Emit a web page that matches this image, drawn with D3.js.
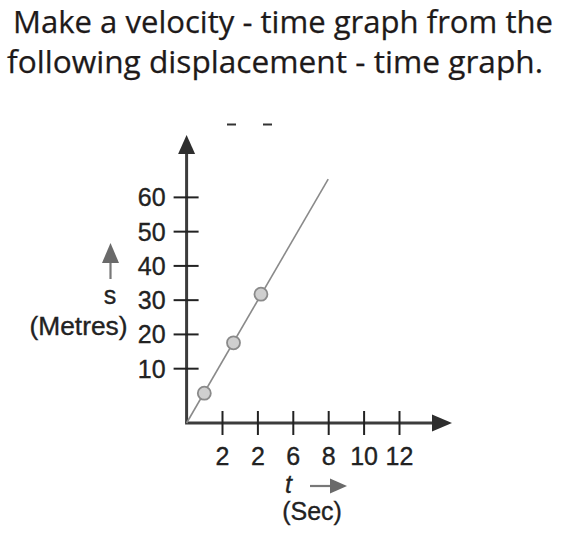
<!DOCTYPE html>
<html>
<head>
<meta charset="utf-8">
<script src="https://cdn.jsdelivr.net/npm/d3@7"></script>
<style>
  html, body { margin: 0; padding: 0; background: #fff; }
  svg { display: block; }
</style>
</head>
<body>
<svg id="chart" width="564" height="535"></svg>
<script>
// ---- data ----
const titleLines = ["Make a velocity - time graph from the", "following displacement - time graph."];
const xTickValues = [2, 4, 6, 8, 10, 12];
const xTickLabels = ["2", "2", "6", "8", "10", "12"];
const yTickValues = [10, 20, 30, 40, 50, 60];
const yTickLabels = ["10", "20", "30", "40", "50", "60"];
const lineT = [0, 8.0];
const lineS = [-6, 65.2];
const pointT = [1.0, 2.65, 4.2];
const pointS = [2.7, 17.4, 31.6];
const yLabel = ["s", "(Metres)"];
const xLabel = ["t", "(Sec)"];

// ---- layout ----
const svg = d3.select("#chart");
const ox = 186.6, oy = 423;
const x = d3.scaleLinear().domain([0, 12]).range([ox, ox + 12 * 17.7]);
const y = d3.scaleLinear().domain([-6, 60]).range([oy, oy - 66 * 3.426]);
const xEnd = 452, yEnd = 135;

// title
const titleTargets = [{x: 13, y: 33, w: 540}, {x: 7, y: 73, w: 536}];
titleLines.forEach((t, i) => {
  const tt = titleTargets[i];
  const el = svg.append("text")
    .attr("x", tt.x).attr("y", tt.y)
    .attr("font-family", "'Open Sans', 'Noto Sans', sans-serif")
    .attr("font-size", 29)
    .attr("fill", "#1e1a1a")
    .attr("stroke", "#1e1a1a").attr("stroke-width", 0.25)
    .text(t);
  const w = el.node().getComputedTextLength();
  el.attr("font-size", Math.min(30.5, 29 * tt.w / w));
  el.attr("textLength", tt.w).attr("lengthAdjust", "spacingAndGlyphs");
});

// stray dashes near top
svg.append("g").attr("stroke", "#333").attr("stroke-width", 2)
  .selectAll("line").data([227, 263]).join("line")
  .attr("x1", d => d).attr("x2", d => d + 9)
  .attr("y1", 124.5).attr("y2", 124.5);

const axisColor = "#3c3c3c";
const labelFont = "'Liberation Sans', Arial, Helvetica, sans-serif";
const fs = 25;

// axes lines
svg.append("line").attr("x1", ox).attr("y1", oy).attr("x2", ox).attr("y2", yEnd + 10)
  .attr("stroke", axisColor).attr("stroke-width", 3);
svg.append("line").attr("x1", ox - 1.5).attr("y1", oy).attr("x2", xEnd - 10).attr("y2", oy)
  .attr("stroke", axisColor).attr("stroke-width", 3);
// arrowheads
svg.append("path")
  .attr("d", `M${ox},${yEnd} L${ox + 8.5},${yEnd + 19} L${ox - 8.5},${yEnd + 19} Z`)
  .attr("fill", "#2e2e2e");
svg.append("path")
  .attr("d", `M${xEnd},${oy} L${xEnd - 20},${oy - 8.5} L${xEnd - 20},${oy + 8.5} Z`)
  .attr("fill", "#2e2e2e");

// y axis ticks via d3 axis
const yAxis = d3.axisLeft(y).tickValues(yTickValues)
  .tickFormat((d, i) => yTickLabels[i]).tickSize(0).tickPadding(0);
const gy = svg.append("g").attr("transform", `translate(${ox},0)`).call(yAxis);
gy.select(".domain").remove();
gy.selectAll(".tick").append("line")
  .attr("x1", -13).attr("x2", 12).attr("y1", 0).attr("y2", 0)
  .attr("stroke", "#222").attr("stroke-width", 2);
gy.selectAll(".tick text")
  .attr("x", -21).attr("dy", "0.36em")
  .attr("font-family", labelFont).attr("font-size", fs)
  .attr("fill", "#222").attr("stroke", "#222").attr("stroke-width", 0.35);

// x axis ticks via d3 axis
const xAxis = d3.axisBottom(x).tickValues(xTickValues)
  .tickFormat((d, i) => xTickLabels[i]).tickSize(0).tickPadding(0);
const gx = svg.append("g").attr("transform", `translate(0,${oy})`).call(xAxis);
gx.select(".domain").remove();
gx.selectAll(".tick").append("line")
  .attr("x1", 0).attr("x2", 0).attr("y1", -12).attr("y2", 12)
  .attr("stroke", "#222").attr("stroke-width", 2);
gx.selectAll(".tick text")
  .attr("y", 42).attr("dy", 0)
  .attr("font-family", labelFont).attr("font-size", fs)
  .attr("fill", "#222").attr("stroke", "#222").attr("stroke-width", 0.35);

// data line
const lineData = lineT.map((t, i) => [t, lineS[i]]);
svg.append("path")
  .datum(lineData)
  .attr("d", d3.line().x(d => x(d[0])).y(d => y(d[1])))
  .attr("fill", "none").attr("stroke", "#8a8a8a").attr("stroke-width", 1.6);

// points
svg.selectAll("circle.pt").data(pointT.map((t, i) => [t, pointS[i]])).join("circle")
  .attr("class", "pt")
  .attr("cx", d => x(d[0])).attr("cy", d => y(d[1]))
  .attr("r", 6.5)
  .attr("fill", "#cfcfcf").attr("stroke", "#8a8a8a").attr("stroke-width", 1.8);

// y label: arrow, s, (Metres)
const gray = "#787878";
const txt = (sel) => sel.attr("font-family", labelFont).attr("font-size", fs)
  .attr("fill", "#222").attr("stroke", "#222").attr("stroke-width", 0.35);
svg.append("line").attr("x1", 110.5).attr("x2", 110.5).attr("y1", 279).attr("y2", 258)
  .attr("stroke", gray).attr("stroke-width", 2.2);
svg.append("path").attr("d", "M110.5,243 L119,263 L102,263 Z").attr("fill", "#6a6a6a");
svg.append("text").attr("x", 110).attr("y", 304).attr("text-anchor", "middle")
  .call(txt).text(yLabel[0]);
svg.append("text").attr("x", 78.5).attr("y", 335).attr("text-anchor", "middle")
  .call(txt)
  .attr("textLength", 98).attr("lengthAdjust", "spacingAndGlyphs")
  .text(yLabel[1]);

// x label: t, arrow, (Sec)
svg.append("text").attr("x", 288.5).attr("y", 493).attr("text-anchor", "middle")
  .call(txt).attr("font-style", "italic")
  .text(xLabel[0]);
svg.append("line").attr("x1", 310).attr("x2", 333).attr("y1", 486).attr("y2", 486)
  .attr("stroke", gray).attr("stroke-width", 2.2);
svg.append("path").attr("d", "M347,486 L330,478.5 L330,493.5 Z").attr("fill", "#6a6a6a");
svg.append("text").attr("x", 312).attr("y", 520).attr("text-anchor", "middle")
  .call(txt)
  .text(xLabel[1]);
</script>
</body>
</html>
